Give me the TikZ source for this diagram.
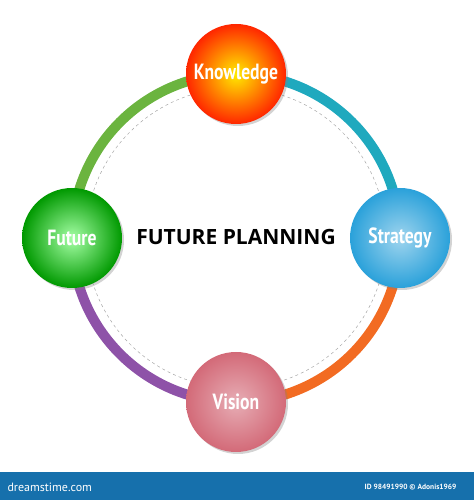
\documentclass[tikz,border=0pt]{standalone}
\usepackage{fontspec}
\usepackage{graphicx}
\setmainfont{PT Sans}
\newfontfamily\titlefont{Open Sans}
\usetikzlibrary{positioning, shadows, backgrounds}
\definecolor{ringteal}{HTML}{1FA9BE}
\definecolor{ringorange}{HTML}{F26B22}
\definecolor{ringpurple}{HTML}{8E52A8}
\definecolor{ringgreen}{HTML}{6BB43F}
\definecolor{barblue}{HTML}{1670AC}
\definecolor{ballblue}{HTML}{2AA1DA}
\definecolor{ballpink}{HTML}{D36A78}
\newcommand{\squeeze}[1]{\scalebox{0.8}[1]{#1}}

\begin{document}
\begin{tikzpicture}[x=1pt,y=1pt,
		ball/.style={circle, minimum size=100pt, inner sep=0pt, text=white,
			font=\fontsize{22}{24}\selectfont\bfseries,
			drop shadow={opacity=0.35, shadow xshift=2pt, shadow yshift=-2pt}},
		band/.style={line width=10pt},
		guide/.style={gray!70, dashed, line width=0.5pt}]
		\useasboundingbox (0,0) rectangle (474,500);
		\coordinate (c) at (236,262);

		\node[ball, inner color=yellow!85!orange, outer color=red!70!orange] (K) at ([shift={(90:164)}]c) {\squeeze{Knowledge}};
		\node[ball, inner color=ballblue!45!white, outer color=ballblue] (S) at ([shift={(0:164)}]c) {\squeeze{Strategy}};
		\node[ball, inner color=ballpink!55!white, outer color=ballpink] (V) at ([shift={(270:164)}]c) {\squeeze{Vision}};
		\node[ball, inner color=green!35!white, outer color=green!60!black] (F) at ([shift={(180:164)}]c) {\squeeze{Future}};
		\node[font=\titlefont\fontsize{21}{24}\selectfont\bfseries] (title) at (236,263) {FUTURE PLANNING};

		\begin{scope}[on background layer]
			\draw[guide] (c) circle[radius=150];
			\draw[band, ringteal] (K.center) arc[start angle=90, end angle=0, radius=164];
			\draw[band, ringorange] (S.center) arc[start angle=0, end angle=-90, radius=164];
			\draw[band, ringpurple] (V.center) arc[start angle=270, end angle=180, radius=164];
			\draw[band, ringgreen] (F.center) arc[start angle=180, end angle=90, radius=164];
		\end{scope}

		% stock bar
		\fill[barblue] (0,0) rectangle (474,28);
		\node[anchor=west, text=white, font=\fontsize{12}{13}\selectfont] (site) at (4,13) {dreamstime.com};
		\node[anchor=east, text=white, font=\fontsize{7.5}{8}\selectfont\bfseries] (id) at (460,13) {ID 98491990 © Adonis1969};
	\end{tikzpicture}
\end{document}
